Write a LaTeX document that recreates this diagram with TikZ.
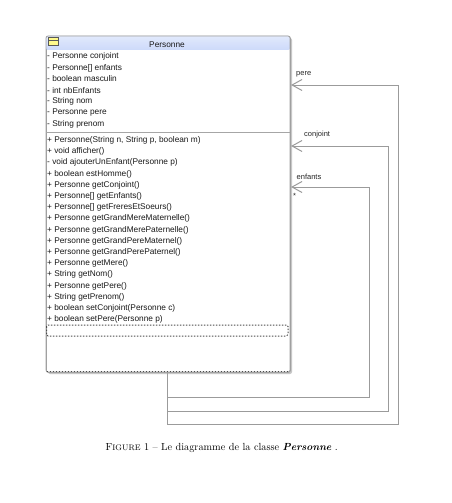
\documentclass[tikz,border=0pt]{standalone}
\usepackage{fontspec}
\newfontfamily\umlfont{Liberation Sans}
\usetikzlibrary{arrows.meta,calc}
\definecolor{linegray}{RGB}{155,155,155}
\definecolor{framegray}{RGB}{120,120,120}
\definecolor{headblue}{RGB}{205,218,250}
\tikzset{
  x=1pt,y=-1pt,
  rowtext/.style={anchor=west,inner sep=0pt,font=\umlfont\fontsize{8.3}{9}\selectfont,text=black!90},
  linklabel/.style={anchor=west,inner sep=0pt,font=\umlfont\fontsize{7.5}{9}\selectfont,text=black!85},
  assoc/.style={draw=linegray,line width=1pt,-{Straight Barb[length=10pt,width=11pt,line width=1pt]}},
  frame/.style={draw=framegray!70,line width=0.8pt,rounded corners=2pt},
  dotline/.style={draw=black!70,line width=1pt,dash pattern=on 1.5pt off 1.5pt},
  rule/.style={draw=black!35,line width=0.7pt}
}
\begin{document}
\begin{tikzpicture}
\useasboundingbox (0,0) rectangle (452,503);
\fill[white] (0,0) rectangle (452,503);
% shadow
\fill[black!22,rounded corners=2pt] (48,38) rectangle (292,374);
% connectors
\coordinate (s) at (167,372);
\coordinate (c1) at (167,397); \coordinate (c2) at (167,411); \coordinate (c3) at (167,424);
\coordinate (t1) at (291,187); \coordinate (t2) at (291,146); \coordinate (t3) at (291,85);
\draw[draw=linegray,line width=1pt] (s) -- (c3);
\draw[assoc] (c1) -- (369.5,397) -- (369.5,187) -- (t1);
\draw[assoc] (c2) -- (388,411) -- (388,146) -- (t2);
\draw[assoc] (c3) -- (398,424) -- (398,85) -- (t3);
% class box
\node[frame,fill=white,minimum width=244pt,minimum height=336pt,inner sep=0pt,anchor=north west] (box) at (46,36) {};
\begin{scope}
\clip[rounded corners=2pt] (46,36) rectangle (290,50);
\shade[top color=headblue!60,bottom color=headblue] (46,36) rectangle (290,50);
\end{scope}
\draw[frame,fill=none] (46,36) rectangle (290,372);
\node[draw=black!65,fill=yellow!45,line width=0.6pt,minimum width=10pt,minimum height=8pt,inner sep=0pt,anchor=north west] (icon) at (48,37.5) {};
\draw[black!65,line width=0.4pt] (48,40) -- (58,40);
\node[rowtext,anchor=center] (title) at (167,44.5) {Personne};
% attributes
\foreach \i/\t/\y in {a1/- Personne conjoint/56,a2/- Personne[] enfants/68,a3/- boolean masculin/79,a4/- int nbEnfants/90.5,a5/- String nom/101.5,a6/- Personne pere/113,a7/- String prenom/124}
  \node[rowtext] (\i) at (47,\y) {\t};
\draw[rule] (46,132.5) -- (290,132.5);
% methods
\foreach \i/\t/\y in {m1/+ Personne(String n{,} String p{,} boolean m)/140.4,m2/+ void afficher()/151.6,m3/- void ajouterUnEnfant(Personne p)/162.8,m4/+ boolean estHomme()/174,m5/+ Personne getConjoint()/185.2,m6/+ Personne[] getEnfants()/196.4,m7/+ Personne[] getFreresEtSoeurs()/207.6,m8/+ Personne getGrandMereMaternelle()/218.8,m9/+ Personne getGrandMerePaternelle()/230,m10/+ Personne getGrandPereMaternel()/241.2,m11/+ Personne getGrandPerePaternel()/252.4,m12/+ Personne getMere()/263.6,m13/+ String getNom()/274.8,m14/+ Personne getPere()/286,m15/+ String getPrenom()/297.2,m16/+ boolean setConjoint(Personne c)/308.4,m17/+ boolean setPere(Personne p)/319.6}
  \node[rowtext] (\i) at (47,\y) {\t};
% dotted regions
\draw[dotline,rounded corners=1.5pt] (46.5,325) rectangle (288,336);
\draw[dotline] (46.5,371.5) -- (289.5,371.5);
% link labels
\node[linklabel] (l1) at (296,74) {pere};
\node[linklabel] (l2) at (304,135) {conjoint};
\node[linklabel] (l3) at (296.5,177) {enfants};
\node[linklabel] (l4) at (293,196) {*};
% caption
\node[anchor=west,inner sep=0pt,font=\fontsize{10.3}{12}\selectfont] (cap) at (105.5,448) {{F\fontsize{8}{12}\selectfont IGURE} 1 -- Le diagramme de la classe \textbf{\textit{Personne}} .};
\end{tikzpicture}
\end{document}
